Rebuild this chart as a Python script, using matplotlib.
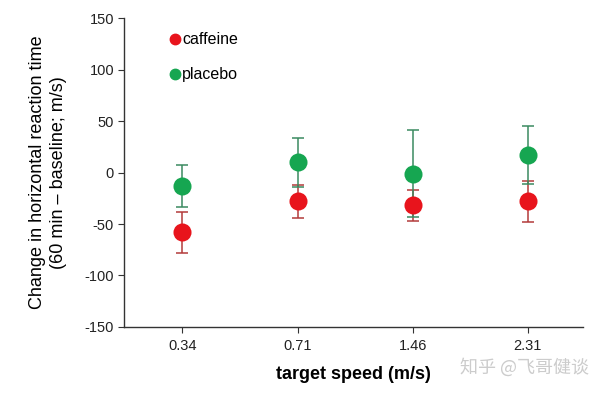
import matplotlib.pyplot as plt
import numpy as np
from matplotlib.lines import Line2D

plt.rcParams['font.family'] = ['Liberation Sans', 'DejaVu Sans']
plt.rcParams['axes.unicode_minus'] = False

speeds = ['0.34', '0.71', '1.46', '2.31']
caffeine = [-58, -28, -32, -28]
caffeine_err = [20, 16, 15, 20]
placebo = [-13, 10, -1, 17]
placebo_err = [20, 24, 42, 28]

fig = plt.figure(figsize=(5.98, 3.93), dpi=100)
ax = fig.add_axes([0.207, 0.168, 0.768, 0.786])

x = np.arange(len(speeds))

# error bars first, then the dots on top
ax.errorbar(x, caffeine, yerr=caffeine_err, fmt='none', ecolor='#b33a3a',
            elinewidth=1.1, capsize=4, capthick=1.1, zorder=2)
ax.errorbar(x, placebo, yerr=placebo_err, fmt='none', ecolor='#3b8a60',
            elinewidth=1.1, capsize=4, capthick=1.1, zorder=2)
ax.plot(x, caffeine, 'o', color='#e8141c', markersize=13, markeredgewidth=0, zorder=3)
ax.plot(x, placebo, 'o', color='#16a651', markersize=13, markeredgewidth=0, zorder=3)

ax.set_xlim(-0.51, 3.48)
ax.set_ylim(-150, 150)
ax.set_yticks(np.arange(-150, 151, 50))
ax.set_xticks(x)
ax.set_xticklabels(speeds)

for s in ['top', 'right']:
    ax.spines[s].set_visible(False)
for s in ['left', 'bottom']:
    ax.spines[s].set_color('#333333')
    ax.spines[s].set_linewidth(1.0)
ax.tick_params(axis='both', labelsize=10.5, length=4, color='#333333',
               labelcolor='#222222')
ax.tick_params(axis='y', pad=3)
ax.tick_params(axis='x', pad=5)

ax.set_xlabel('target speed (m/s)', fontsize=13, fontweight='bold', labelpad=9)
ax.set_ylabel('Change in horizontal reaction time\n(60 min \u2013 baseline; m/s)',
              fontsize=13, labelpad=13, linespacing=1.3)

handles = [Line2D([], [], marker='o', ls='none', color='#e8141c', markersize=7.5),
           Line2D([], [], marker='o', ls='none', color='#16a651', markersize=7.5)]
ax.legend(handles, ['caffeine', 'placebo'], loc='upper left',
          bbox_to_anchor=(0.07, 1.0), frameon=False, fontsize=11.5,
          handlelength=0.6, handletextpad=0.15, labelspacing=1.25)

fig.text(0.985, 0.065, '知乎 @飞哥健谈', ha='right', va='center', fontsize=13,
         color='#cccccc', family=['Noto Sans CJK SC', 'DejaVu Sans'])

fig.savefig('out.png', dpi=100)
